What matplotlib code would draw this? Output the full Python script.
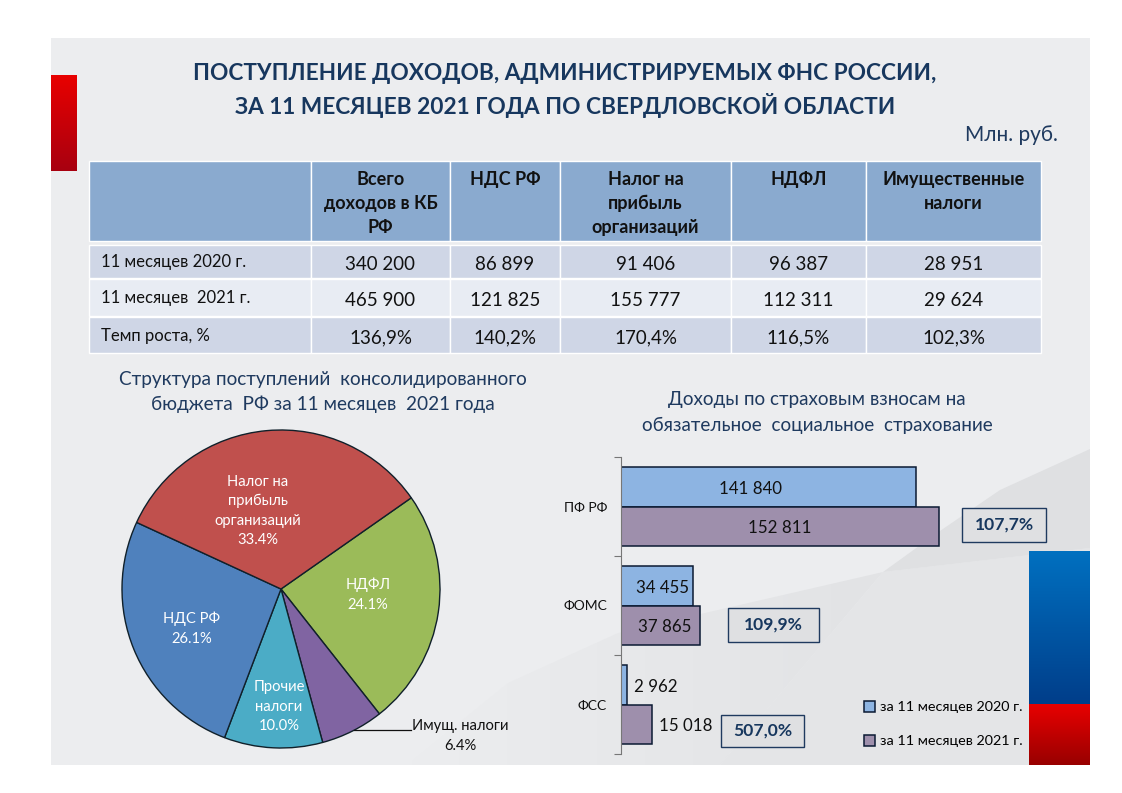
import numpy as np
import matplotlib
matplotlib.use("Agg")
import matplotlib.pyplot as plt
from matplotlib.patches import Rectangle, Polygon
from matplotlib.colors import LinearSegmentedColormap

plt.rcParams['font.family'] = ['Lato', 'Noto Sans', 'DejaVu Sans']

# table
table_cols = ["", "Всего\nдоходов в КБ\nРФ", "НДС РФ", "Налог на\nприбыль\nорганизаций", "НДФЛ", "Имущественные\nналоги"]
row_names = ["11 месяцев 2020 г.", "11 месяцев  2021 г.", "Темп роста, %"]
values_2020 = [340200, 86899, 91406, 96387, 28951]
values_2021 = [465900, 121825, 155777, 112311, 29624]
growth = [136.9, 140.2, 170.4, 116.5, 102.3]

# pie
pie_names = ["НДФЛ", "Имущ. налоги", "Прочие\nналоги", "НДС РФ", "Налог на\nприбыль\nорганизаций"]
pie_shares = [24.1, 6.4, 10.0, 26.1, 33.4]
pie_colors = ["#9BBB59", "#8064A2", "#4BACC6", "#4F81BD", "#C0504D"]

# bars
funds = ["ПФ РФ", "ФОМС", "ФСС"]
ins_2020 = [141840, 34455, 2962]
ins_2021 = [152811, 37865, 15018]
ins_growth = [107.7, 109.9, 507.0]
series_names = ["за 11 месяцев 2020 г.", "за 11 месяцев 2021 г."]

NAVY = "#17375E"
W, H = 1122, 793


def sp(v):
    return f"{v:,}".replace(",", " ")


def pc(v):
    return f"{v:.1f}%".replace(".", ",")


def px_axes(x0, y0, x1, y1, **kw):
    return fig.add_axes([x0 / W, 1 - y1 / H, (x1 - x0) / W, (y1 - y0) / H], **kw)


fig = plt.figure(figsize=(W / 100, H / 100), dpi=100, facecolor="white")

bg = px_axes(0, 0, W, H, zorder=0)
bg.set_xlim(0, W)
bg.set_ylim(H, 0)
bg.axis("off")


def gradient(x0, x1, y0, y1, c0, c1):
    cm = LinearSegmentedColormap.from_list("g", [c0, c1])
    bg.imshow(np.linspace(0, 1, 100).reshape(-1, 1), cmap=cm, extent=(x0, x1, y1, y0), aspect="auto", zorder=3)


# slide background with the grey swoosh
bg.add_patch(Rectangle((51, 38), 1039, 727, fc="#ECEDEF", ec="none", zorder=1))
swoosh = Polygon([(883, 572), (618, 633), (508, 683), (407, 765), (720, 765)], fc="none", ec="none", transform=bg.transData)
bg.add_patch(swoosh)
fade = LinearSegmentedColormap.from_list("f", ["#ECEDEF", "#E2E3E5"])
im = bg.imshow(np.linspace(0, 1, 100).reshape(1, -1), cmap=fade, extent=(407, 883, 765, 572), aspect="auto", zorder=2)
im.set_clip_path(swoosh)
bg.add_patch(Polygon([(883, 572), (720, 765), (1090, 765), (1090, 548)], fc="#E4E5E7", ec="none", zorder=2))
bg.add_patch(Polygon([(883, 572), (937, 533), (1000, 490), (1090, 449), (1090, 548)], fc="#DFE0E2", ec="none", zorder=2))
gradient(51, 77, 75, 171, "#E80000", "#A80010")
gradient(1029, 1090, 551, 704, "#0070C0", "#003E8A")
gradient(1029, 1090, 704, 765, "#E80000", "#980000")
bg.set_xlim(0, W)
bg.set_ylim(H, 0)

bg.text(565, 73.5, "ПОСТУПЛЕНИЕ ДОХОДОВ, АДМИНИСТРИРУЕМЫХ ФНС РОССИИ,", color=NAVY, fontsize=16.3, fontweight="bold", ha="center", va="center")
bg.text(565, 105, "ЗА 11 МЕСЯЦЕВ 2021 ГОДА ПО СВЕРДЛОВСКОЙ ОБЛАСТИ", color=NAVY, fontsize=16.3, fontweight="bold", ha="center", va="center")
bg.text(1058, 135, "Млн. руб.", color="#1F3A5F", fontsize=15, ha="right", va="center")

# table cells
col_x = [89, 311, 450, 560, 731, 866, 1041]
row_y = [161, 241, 245, 278, 279, 316, 317, 353]
rows = [[sp(v) for v in values_2020], [sp(v) for v in values_2021], [pc(v) for v in growth]]
row_fill = ["#CFD6E6", "#E8ECF3", "#CFD6E6"]
for j in range(6):
    x0, x1 = col_x[j], col_x[j + 1]
    bg.add_patch(Rectangle((x0, 161), x1 - x0, 80, fc="#8AAACF", ec="white", lw=1.0, zorder=2))
    bg.text((x0 + x1) / 2, 171, table_cols[j], fontsize=13, fontweight="bold", color="#111111", ha="center", va="top", linespacing=1.5, zorder=4)
    for i in range(3):
        y0, y1 = row_y[2 + i * 2], row_y[3 + i * 2]
        bg.add_patch(Rectangle((x0, y0), x1 - x0, y1 - y0, fc=row_fill[i], ec="white", lw=1.0, zorder=2))
        if j == 0:
            bg.text(101, (y0 + y1) / 2 + 1, row_names[i], fontsize=12, color="#111111", ha="left", va="center", zorder=4)
        else:
            bg.text((x0 + x1) / 2, (y0 + y1) / 2 + 2.5, rows[i][j - 1], fontsize=13.5, color="#111111", ha="center", va="center", zorder=4)

# pie
bg.text(323, 379, "Структура поступлений  консолидированного", fontsize=13.7, color="#1F3A5F", ha="center", va="center")
bg.text(323, 404, "бюджета  РФ за 11 месяцев  2021 года", fontsize=13.7, color="#1F3A5F", ha="center", va="center")
ax_pie = px_axes(122, 430, 440, 748, zorder=2)
ax_pie.pie(pie_shares, colors=pie_colors, startangle=35, counterclock=False, radius=1,
           wedgeprops=dict(edgecolor="#10202a", linewidth=1.0))
ax_pie.set_xlim(-1, 1)
ax_pie.set_ylim(-1, 1)

# bars
bg.text(817, 400, "Доходы по страховым взносам на", fontsize=13.6, color="#1F3A5F", ha="center", va="center")
bg.text(817, 425, "обязательное  социальное  страхование", fontsize=13.6, color="#1F3A5F", ha="center", va="center")
ax = px_axes(621, 457, 1037, 754, zorder=2)
ax.patch.set_alpha(0)
pos = np.arange(len(funds))
b1 = ax.barh(pos - 0.2, ins_2020, 0.4, color="#8DB4E2", edgecolor="#0B1A33", linewidth=1.1, label=series_names[0])
b2 = ax.barh(pos + 0.2, ins_2021, 0.4, color="#9E8FAC", edgecolor="#0B1A33", linewidth=1.1, label=series_names[1])
ax.set_xlim(0, 200000)
ax.set_ylim(2.5, -0.5)
for s in ["top", "right", "bottom"]:
    ax.spines[s].set_visible(False)
ax.spines["left"].set_color("#777777")
ax.set_xticks([])
ax.set_yticks([-0.5, 0.5, 1.5, 2.5])
ax.set_yticklabels([])
ax.tick_params(axis="y", which="major", length=5, width=0.8, color="#777777")
ax.set_yticks(pos, minor=True)
ax.set_yticklabels(funds, minor=True, fontsize=10, color="#111111")
ax.tick_params(axis="y", which="minor", length=0, pad=10)

# value labels, inside the long bars and beside the short one
ax.text(ins_2020[0] * 0.44, -0.18, sp(ins_2020[0]), fontsize=12.2, color="#111111", ha="center", va="center")
ax.text(ins_2021[0] * 0.5, 0.22, sp(ins_2021[0]), fontsize=12.2, color="#111111", ha="center", va="center")
ax.text(ins_2020[1] - 2000, 0.82, sp(ins_2020[1]), fontsize=12.2, color="#111111", ha="right", va="center")
ax.text(ins_2021[1] - 3800, 1.22, sp(ins_2021[1]), fontsize=12.2, color="#111111", ha="right", va="center")
ax.text(ins_2020[2] + 3500, 1.82, sp(ins_2020[2]), fontsize=12.2, color="#111111", ha="left", va="center")
ax.text(ins_2021[2] + 3200, 2.22, sp(ins_2021[2]), fontsize=12.2, color="#111111", ha="left", va="center")

ax.legend(handles=[b1, b2], loc="lower right", bbox_to_anchor=(0.98, 0.003), frameon=False, fontsize=10.4,
          handlelength=0.75, handleheight=0.8, handletextpad=0.35, labelspacing=1.5, borderaxespad=0)

# overlay for pie labels and growth boxes
top = px_axes(0, 0, W, H, zorder=5)
top.set_xlim(0, W)
top.set_ylim(H, 0)
top.axis("off")
pie_label_xy = [(368, 595), (460, 736), (279, 707), (192, 629), (258, 511)]
for name, share, xy, col in zip(pie_names, pie_shares, pie_label_xy, ["white", "#111111", "white", "white", "white"]):
    top.text(xy[0], xy[1], f"{name}\n{share:.1f}%", fontsize=10.6, color=col, ha="center", va="center", linespacing=1.5)
top.plot([354, 411], [730, 730], color="#111111", lw=0.9)

box_xy = [(962, 508, 84, 34), (728, 608, 91, 34), (721, 715, 83, 32)]
for (x, y, w, h), g in zip(box_xy, ins_growth):
    top.add_patch(Rectangle((x, y), w, h, fc="#DFE0E2", ec="#1F3A5F", lw=1))
    top.text(x + w / 2, y + h / 2, pc(g), fontsize=12.6, fontweight="bold", color=NAVY, ha="center", va="center")

fig.savefig("out.png", dpi=100)
